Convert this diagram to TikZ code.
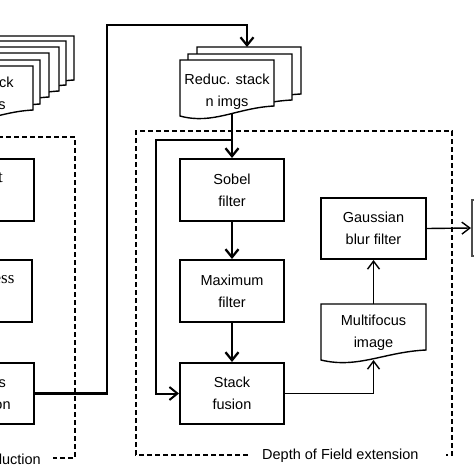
\documentclass[tikz,border=0pt]{standalone}
\usepackage{fontspec}
\setmainfont{Liberation Sans}
\newfontfamily\seriffont{Liberation Serif}
\usetikzlibrary{arrows.meta}
\newcommand\docshape[4]{%
  \draw[docpage] (#1,#3) -- (#2,#3) -- (#2,{#4-10})
    .. controls ({#1+0.6*(#2-#1)},{#4-8}) and ({#1+0.35*(#2-#1)},{#4+9}) .. (#1,#4) -- cycle;}
\begin{document}
\begin{tikzpicture}[x=1pt,y=-1pt,
  box/.style={draw, line width=2pt, minimum width=104pt, minimum height=62pt,
    align=center, font=\fontsize{14.5}{22}\selectfont, inner sep=0pt},
  serifbox/.style={box, font={\seriffont\fontsize{17}{23}\selectfont}},
  lbl/.style={font=\fontsize{14.5}{22}\selectfont, align=center, inner sep=0pt},
  docpage/.style={draw, line width=1.4pt, fill=white, line join=miter},
  flow/.style={line width=2.3pt, -{Straight Barb[length=8pt,width=13pt]}},
  thinflow/.style={line width=1.4pt, -{Straight Barb[length=8pt,width=12pt]}},
  dbox/.style={dash pattern=on 5pt off 3pt, line width=2pt}
]
\useasboundingbox (0,0) rectangle (474,474);
\fill[white] (0,0) rectangle (474,474);
\clip (0,0) rectangle (474,474);

% ---------- left stack of pages ----------
\begin{scope}[shift={(41,-30)}]\docshape{-61}{33}{66}{120}\end{scope}
\begin{scope}[shift={(33,-25)}]\docshape{-61}{33}{66}{120}\end{scope}
\begin{scope}[shift={(26,-19)}]\docshape{-61}{33}{66}{120}\end{scope}
\begin{scope}[shift={(16,-13)}]\docshape{-61}{33}{66}{120}\end{scope}
\begin{scope}[shift={(7,-6)}]\docshape{-61}{33}{66}{120}\end{scope}
\docshape{-61}{33}{66}{120}
\node[lbl] (fullstack) at (-17,94.5) {Full stack\\N imgs};

% ---------- left dashed region ----------
\draw[dbox] (-10,137) -- (75,137) -- (75,458) -- (53,458);
\node[lbl, anchor=east] (redlabel) at (41,459) {Stack reduction};

% ---------- left boxes ----------
\node[box] (box1) at (-18,190) {};
\node[font={\seriffont\fontsize{17}{23}\selectfont}, align=center, inner sep=0pt] (box1txt) at (-26,190) {Contrast\\map};
\node[serifbox] (box2) at (-20,291) {Sharpness\\map};
\node[box, minimum height=61pt] (box3) at (-18,393.5) {Images\\selection};

% ---------- reduced stack ----------
\docshape{197}{301}{47}{104}
\docshape{188}{292}{54}{110}
\docshape{180}{274}{60}{116}
\node[lbl] (reduc) at (227,92) {Reduc. stack\\n imgs};
\coordinate (rtop) at (247,47);
\coordinate (rbot) at (232,113);
\coordinate (c1) at (107,25);
\draw[flow, line width=2.2pt] (box3.east) -| (c1) -| (rtop);

% ---------- right dashed region ----------
\draw[dbox] (248,455) -- (136,455) -- (136,131) -- (452,131) -- (452,455) -- (446,455);
\node[lbl, anchor=west] (doflabel) at (262,456) {Depth of Field extension};

% ---------- pipeline ----------
\node[box] (sobel) at (232,190) {Sobel\\filter};
\node[box] (maxf) at (232,291) {Maximum\\filter};
\node[box, minimum height=61pt] (fusion) at (232,393.5) {Stack\\fusion};
\node[box, minimum width=105pt, minimum height=61pt] (gauss) at (373.5,228.5) {Gaussian\\blur filter};

\docshape{321}{426}{304}{360}
\node[lbl] (multi) at (373.5,332.5) {Multifocus\\image};
\coordinate (mtop) at (373.5,304);
\coordinate (mbot) at (373.5,360);

\node[draw=black!70, line width=2pt, minimum width=30pt, minimum height=56pt, inner sep=0pt] (rb) at (487,228) {};

\coordinate (split) at (232,140);
\coordinate (lp) at (156,140);

\draw[flow] (rbot) -- (sobel.north);
\draw[flow] (sobel.south) -- (maxf.north);
\draw[flow] (maxf.south) -- (fusion.north);
\draw[flow, line width=2pt] (split) -- (lp) |- (fusion.west);
\draw[thinflow] (fusion.east) -| (mbot);
\draw[thinflow] (mtop) -- (gauss.south);
\draw[thinflow] (gauss.east) -- (rb.west);
\end{tikzpicture}
\end{document}
